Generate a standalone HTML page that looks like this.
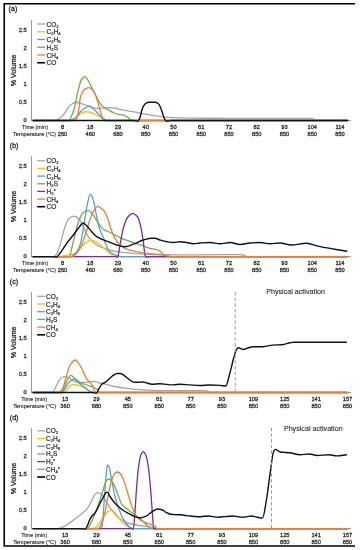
<!DOCTYPE html>
<html><head><meta charset="utf-8"><style>
html,body{margin:0;padding:0;background:#fff;}
body{width:360px;height:550px;overflow:hidden;}
svg{display:block;font-family:"Liberation Sans", Arial, sans-serif;}
text{stroke:#2a2a2a;stroke-width:0.3px;paint-order:stroke;}
</style></head><body>
<svg width="360" height="550" viewBox="0 0 360 550">
<rect width="360" height="550" fill="#fff"/>
<path d="M355,3.75 H4.25 V546 H355" fill="none" stroke="#000" stroke-width="1.6"/>
<text x="8.60" y="10.85" font-size="7.10" text-anchor="start" fill="#2a2a2a">(a)</text>
<line x1="31.50" y1="20.00" x2="31.50" y2="120.90" stroke="#9a9a9a" stroke-width="1"/>
<line x1="31.50" y1="120.50" x2="351.00" y2="120.50" stroke="#8c8c8c" stroke-width="0.9"/>
<text transform="translate(26.80,122.05) scale(0.950,1)" font-size="6.10" text-anchor="end" fill="#2a2a2a">0</text>
<text transform="translate(26.80,104.10) scale(0.950,1)" font-size="6.10" text-anchor="end" fill="#2a2a2a">0.5</text>
<text transform="translate(26.80,86.15) scale(0.950,1)" font-size="6.10" text-anchor="end" fill="#2a2a2a">1</text>
<text transform="translate(26.80,68.20) scale(0.950,1)" font-size="6.10" text-anchor="end" fill="#2a2a2a">1.5</text>
<text transform="translate(26.80,50.25) scale(0.950,1)" font-size="6.10" text-anchor="end" fill="#2a2a2a">2</text>
<text transform="translate(26.80,32.30) scale(0.950,1)" font-size="6.10" text-anchor="end" fill="#2a2a2a">2.5</text>
<text transform="translate(15.9,70.40) rotate(-90)" font-size="7" text-anchor="middle" fill="#2a2a2a">% Volume</text>
<text transform="translate(48.00,129.25) scale(0.930,1)" font-size="5.90" text-anchor="end" fill="#2a2a2a" style="stroke-width:0.15px">Time (min)</text>
<text transform="translate(55.80,135.75) scale(0.945,1)" font-size="5.90" text-anchor="end" fill="#2a2a2a" style="stroke-width:0.15px">Temperature (°C)</text>
<text transform="translate(62.50,129.20) scale(0.920,1)" font-size="6.20" text-anchor="middle" fill="#2a2a2a">8</text>
<text transform="translate(62.50,135.70) scale(0.920,1)" font-size="6.20" text-anchor="middle" fill="#2a2a2a">260</text>
<text transform="translate(90.25,129.20) scale(0.920,1)" font-size="6.20" text-anchor="middle" fill="#2a2a2a">18</text>
<text transform="translate(90.25,135.70) scale(0.920,1)" font-size="6.20" text-anchor="middle" fill="#2a2a2a">460</text>
<text transform="translate(118.00,129.20) scale(0.920,1)" font-size="6.20" text-anchor="middle" fill="#2a2a2a">29</text>
<text transform="translate(118.00,135.70) scale(0.920,1)" font-size="6.20" text-anchor="middle" fill="#2a2a2a">680</text>
<text transform="translate(145.75,129.20) scale(0.920,1)" font-size="6.20" text-anchor="middle" fill="#2a2a2a">40</text>
<text transform="translate(145.75,135.70) scale(0.920,1)" font-size="6.20" text-anchor="middle" fill="#2a2a2a">850</text>
<text transform="translate(173.50,129.20) scale(0.920,1)" font-size="6.20" text-anchor="middle" fill="#2a2a2a">50</text>
<text transform="translate(173.50,135.70) scale(0.920,1)" font-size="6.20" text-anchor="middle" fill="#2a2a2a">850</text>
<text transform="translate(201.25,129.20) scale(0.920,1)" font-size="6.20" text-anchor="middle" fill="#2a2a2a">61</text>
<text transform="translate(201.25,135.70) scale(0.920,1)" font-size="6.20" text-anchor="middle" fill="#2a2a2a">850</text>
<text transform="translate(229.00,129.20) scale(0.920,1)" font-size="6.20" text-anchor="middle" fill="#2a2a2a">72</text>
<text transform="translate(229.00,135.70) scale(0.920,1)" font-size="6.20" text-anchor="middle" fill="#2a2a2a">850</text>
<text transform="translate(256.75,129.20) scale(0.920,1)" font-size="6.20" text-anchor="middle" fill="#2a2a2a">82</text>
<text transform="translate(256.75,135.70) scale(0.920,1)" font-size="6.20" text-anchor="middle" fill="#2a2a2a">850</text>
<text transform="translate(284.50,129.20) scale(0.920,1)" font-size="6.20" text-anchor="middle" fill="#2a2a2a">93</text>
<text transform="translate(284.50,135.70) scale(0.920,1)" font-size="6.20" text-anchor="middle" fill="#2a2a2a">850</text>
<text transform="translate(312.25,129.20) scale(0.920,1)" font-size="6.20" text-anchor="middle" fill="#2a2a2a">104</text>
<text transform="translate(312.25,135.70) scale(0.920,1)" font-size="6.20" text-anchor="middle" fill="#2a2a2a">850</text>
<text transform="translate(340.00,129.20) scale(0.920,1)" font-size="6.20" text-anchor="middle" fill="#2a2a2a">114</text>
<text transform="translate(340.00,135.70) scale(0.920,1)" font-size="6.20" text-anchor="middle" fill="#2a2a2a">850</text>
<line x1="37.2" y1="24.00" x2="45.1" y2="24.00" stroke="#a5a5a5" stroke-width="1.30"/>
<text x="46.60" y="26.55" font-size="6.50" text-anchor="start" fill="#2a2a2a" style="stroke-width:0.2px">CO<tspan font-size="4.2" dy="1.1">2</tspan></text>
<line x1="37.2" y1="31.75" x2="45.1" y2="31.75" stroke="#ffc000" stroke-width="1.30"/>
<text x="46.60" y="34.30" font-size="6.50" text-anchor="start" fill="#2a2a2a" style="stroke-width:0.2px">C<tspan font-size="4.2" dy="1.1">2</tspan><tspan dy="-1.1">H</tspan><tspan font-size="4.2" dy="1.1">4</tspan></text>
<line x1="37.2" y1="39.50" x2="45.1" y2="39.50" stroke="#5b9bd5" stroke-width="1.30"/>
<text x="46.60" y="42.05" font-size="6.50" text-anchor="start" fill="#2a2a2a" style="stroke-width:0.2px">C<tspan font-size="4.2" dy="1.1">2</tspan><tspan dy="-1.1">H</tspan><tspan font-size="4.2" dy="1.1">6</tspan></text>
<line x1="37.2" y1="47.25" x2="45.1" y2="47.25" stroke="#70ad47" stroke-width="1.30"/>
<text x="46.60" y="49.80" font-size="6.50" text-anchor="start" fill="#2a2a2a" style="stroke-width:0.2px">H<tspan font-size="4.2" dy="1.1">2</tspan><tspan dy="-1.1">S</tspan></text>
<line x1="37.2" y1="55.00" x2="45.1" y2="55.00" stroke="#ed7d31" stroke-width="1.30"/>
<text x="46.60" y="57.55" font-size="6.50" text-anchor="start" fill="#2a2a2a" style="stroke-width:0.2px">CH<tspan font-size="4.2" dy="1.1">4</tspan></text>
<line x1="37.2" y1="62.75" x2="45.1" y2="62.75" stroke="#000" stroke-width="1.60"/>
<text x="46.60" y="65.30" font-size="6.50" text-anchor="start" fill="#2a2a2a" style="stroke-width:0.2px">CO</text>
<path d="M33.00,120.50 C40.00,120.50 47.00,120.50 54.00,120.50 C55.00,120.50 56.00,119.98 57.00,119.60 C58.00,119.22 59.00,118.69 60.00,118.00 C61.33,117.08 62.67,115.53 64.00,113.90 C65.25,112.37 66.50,109.81 67.75,108.25 C69.00,106.69 70.25,105.06 71.50,104.25 C72.97,103.30 74.43,102.25 75.90,102.25 C77.35,102.25 78.80,102.84 80.25,103.25 C81.92,103.72 83.58,104.59 85.25,105.10 C86.92,105.61 88.58,105.89 90.25,106.40 C91.92,106.91 93.58,108.07 95.25,108.25 C96.50,108.39 97.75,108.50 99.00,108.50 C100.67,108.50 102.33,107.60 104.00,107.60 C105.67,107.60 107.33,107.60 109.00,107.60 C111.00,107.60 113.00,107.78 115.00,108.00 C116.67,108.18 118.33,109.02 120.00,109.40 C124.07,110.32 128.13,110.86 132.20,111.60 C139.60,112.95 147.00,114.65 154.40,115.70 C158.87,116.34 163.33,117.04 167.80,117.30 C175.20,117.73 182.60,118.03 190.00,118.10 C203.33,118.23 216.67,118.30 230.00,118.30 C253.33,118.30 276.67,118.30 300.00,118.30 C304.00,118.30 308.00,118.32 312.00,118.40 C313.17,118.42 314.33,119.55 315.50,119.90 C316.33,120.15 317.17,120.50 318.00,120.50 C327.87,120.50 337.73,120.50 347.60,120.50" fill="none" stroke="#a5a5a5" stroke-width="1.30" stroke-linejoin="round" stroke-linecap="round"/>
<path d="M33.00,120.50 C45.33,120.50 57.67,120.50 70.00,120.50 C72.17,120.50 74.33,118.37 76.50,117.00 C78.17,115.95 79.83,113.96 81.50,113.25 C83.17,112.54 84.83,111.75 86.50,111.75 C87.75,111.75 89.00,112.00 90.25,112.25 C91.92,112.58 93.58,113.67 95.25,114.50 C96.92,115.33 98.58,116.29 100.25,117.25 C101.50,117.97 102.75,118.97 104.00,119.50 C105.00,119.92 106.00,120.50 107.00,120.50 C187.20,120.50 267.40,120.50 347.60,120.50" fill="none" stroke="#ffc000" stroke-width="1.30" stroke-linejoin="round" stroke-linecap="round"/>
<path d="M33.00,120.50 C45.33,120.50 57.67,120.50 70.00,120.50 C71.75,120.50 73.50,119.37 75.25,118.25 C76.92,117.18 78.58,113.69 80.25,112.00 C81.70,110.53 83.15,109.07 84.60,108.25 C86.07,107.42 87.53,106.40 89.00,106.40 C90.25,106.40 91.50,107.42 92.75,108.25 C94.00,109.08 95.25,110.75 96.50,112.00 C97.75,113.25 99.00,114.61 100.25,115.75 C101.50,116.89 102.75,118.16 104.00,118.90 C105.17,119.59 106.33,120.50 107.50,120.50 C187.53,120.50 267.57,120.50 347.60,120.50" fill="none" stroke="#5b9bd5" stroke-width="1.30" stroke-linejoin="round" stroke-linecap="round"/>
<path d="M33.00,120.50 C45.00,120.50 57.00,120.50 69.00,120.50 C69.83,120.50 70.67,117.77 71.50,116.00 C72.33,114.23 73.17,112.25 74.00,109.50 C74.83,106.75 75.67,102.00 76.50,98.25 C77.33,94.50 78.17,90.00 79.00,87.00 C79.83,84.00 80.67,80.66 81.50,79.50 C82.53,78.06 83.57,76.75 84.60,76.75 C85.43,76.75 86.27,77.95 87.10,78.90 C88.15,80.10 89.20,82.53 90.25,84.50 C91.50,86.85 92.75,89.50 94.00,92.00 C95.25,94.50 96.50,97.36 97.75,99.50 C99.00,101.64 100.25,103.76 101.50,105.10 C102.75,106.44 104.00,107.47 105.25,108.25 C106.50,109.03 107.75,109.42 109.00,110.10 C110.33,110.82 111.67,111.93 113.00,112.50 C114.97,113.34 116.93,113.89 118.90,114.40 C120.73,114.88 122.57,115.04 124.40,115.60 C125.43,115.91 126.47,116.34 127.50,117.00 C128.33,117.53 129.17,119.15 130.00,119.60 C130.83,120.05 131.67,120.50 132.50,120.50 C204.20,120.50 275.90,120.50 347.60,120.50" fill="none" stroke="#70ad47" stroke-width="1.30" stroke-linejoin="round" stroke-linecap="round"/>
<path d="M33.00,120.50 C47.17,120.50 61.33,120.50 75.50,120.50 C76.17,120.50 76.83,118.16 77.50,116.00 C77.92,114.65 78.33,112.13 78.75,109.50 C79.17,106.87 79.58,101.51 80.00,99.50 C80.70,96.12 81.40,93.85 82.10,92.60 C83.15,90.72 84.20,89.47 85.25,88.90 C86.50,88.22 87.75,87.60 89.00,87.60 C90.03,87.60 91.07,88.59 92.10,89.50 C93.15,90.43 94.20,92.29 95.25,94.50 C96.08,96.25 96.92,99.31 97.75,102.00 C98.58,104.69 99.42,107.89 100.25,110.75 C100.87,112.87 101.48,115.43 102.10,117.00 C102.67,118.44 103.23,120.50 103.80,120.50 C185.07,120.50 266.33,120.50 347.60,120.50" fill="none" stroke="#ed7d31" stroke-width="1.30" stroke-linejoin="round" stroke-linecap="round"/>
<path d="M33.00,120.50 C66.67,120.50 100.33,120.50 134.00,120.50 C135.17,120.50 136.33,121.30 137.50,121.30 C138.33,121.30 139.17,119.37 140.00,117.50 C140.63,116.08 141.27,111.88 141.90,110.00 C142.52,108.17 143.13,106.49 143.75,105.60 C144.58,104.40 145.42,103.50 146.25,103.10 C147.08,102.70 147.92,102.30 148.75,102.30 C150.83,102.30 152.92,102.30 155.00,102.30 C156.03,102.30 157.07,102.84 158.10,103.50 C158.73,103.91 159.37,105.07 160.00,106.25 C160.63,107.43 161.27,109.46 161.90,111.25 C162.52,112.99 163.13,115.41 163.75,116.90 C164.37,118.39 164.98,120.22 165.60,120.60 C166.23,121.00 166.87,121.30 167.50,121.30 C168.50,121.30 169.50,120.50 170.50,120.50 C229.53,120.50 288.57,120.50 347.60,120.50" fill="none" stroke="#0a121c" stroke-width="1.40" stroke-linejoin="round" stroke-linecap="round"/>
<text x="9.80" y="148.10" font-size="7.10" text-anchor="start" fill="#2a2a2a">(b)</text>
<line x1="31.50" y1="156.10" x2="31.50" y2="257.00" stroke="#9a9a9a" stroke-width="1"/>
<line x1="31.50" y1="256.60" x2="351.00" y2="256.60" stroke="#8c8c8c" stroke-width="0.9"/>
<text transform="translate(26.80,258.15) scale(0.950,1)" font-size="6.10" text-anchor="end" fill="#2a2a2a">0</text>
<text transform="translate(26.80,240.20) scale(0.950,1)" font-size="6.10" text-anchor="end" fill="#2a2a2a">0.5</text>
<text transform="translate(26.80,222.25) scale(0.950,1)" font-size="6.10" text-anchor="end" fill="#2a2a2a">1</text>
<text transform="translate(26.80,204.30) scale(0.950,1)" font-size="6.10" text-anchor="end" fill="#2a2a2a">1.5</text>
<text transform="translate(26.80,186.35) scale(0.950,1)" font-size="6.10" text-anchor="end" fill="#2a2a2a">2</text>
<text transform="translate(26.80,168.40) scale(0.950,1)" font-size="6.10" text-anchor="end" fill="#2a2a2a">2.5</text>
<text transform="translate(15.9,206.50) rotate(-90)" font-size="7" text-anchor="middle" fill="#2a2a2a">% Volume</text>
<text transform="translate(48.00,265.35) scale(0.930,1)" font-size="5.90" text-anchor="end" fill="#2a2a2a" style="stroke-width:0.15px">Time (min)</text>
<text transform="translate(55.80,271.85) scale(0.945,1)" font-size="5.90" text-anchor="end" fill="#2a2a2a" style="stroke-width:0.15px">Temperature (°C)</text>
<text transform="translate(62.50,265.30) scale(0.920,1)" font-size="6.20" text-anchor="middle" fill="#2a2a2a">8</text>
<text transform="translate(62.50,271.80) scale(0.920,1)" font-size="6.20" text-anchor="middle" fill="#2a2a2a">260</text>
<text transform="translate(90.25,265.30) scale(0.920,1)" font-size="6.20" text-anchor="middle" fill="#2a2a2a">18</text>
<text transform="translate(90.25,271.80) scale(0.920,1)" font-size="6.20" text-anchor="middle" fill="#2a2a2a">460</text>
<text transform="translate(118.00,265.30) scale(0.920,1)" font-size="6.20" text-anchor="middle" fill="#2a2a2a">29</text>
<text transform="translate(118.00,271.80) scale(0.920,1)" font-size="6.20" text-anchor="middle" fill="#2a2a2a">680</text>
<text transform="translate(145.75,265.30) scale(0.920,1)" font-size="6.20" text-anchor="middle" fill="#2a2a2a">40</text>
<text transform="translate(145.75,271.80) scale(0.920,1)" font-size="6.20" text-anchor="middle" fill="#2a2a2a">850</text>
<text transform="translate(173.50,265.30) scale(0.920,1)" font-size="6.20" text-anchor="middle" fill="#2a2a2a">50</text>
<text transform="translate(173.50,271.80) scale(0.920,1)" font-size="6.20" text-anchor="middle" fill="#2a2a2a">850</text>
<text transform="translate(201.25,265.30) scale(0.920,1)" font-size="6.20" text-anchor="middle" fill="#2a2a2a">61</text>
<text transform="translate(201.25,271.80) scale(0.920,1)" font-size="6.20" text-anchor="middle" fill="#2a2a2a">850</text>
<text transform="translate(229.00,265.30) scale(0.920,1)" font-size="6.20" text-anchor="middle" fill="#2a2a2a">72</text>
<text transform="translate(229.00,271.80) scale(0.920,1)" font-size="6.20" text-anchor="middle" fill="#2a2a2a">850</text>
<text transform="translate(256.75,265.30) scale(0.920,1)" font-size="6.20" text-anchor="middle" fill="#2a2a2a">82</text>
<text transform="translate(256.75,271.80) scale(0.920,1)" font-size="6.20" text-anchor="middle" fill="#2a2a2a">850</text>
<text transform="translate(284.50,265.30) scale(0.920,1)" font-size="6.20" text-anchor="middle" fill="#2a2a2a">93</text>
<text transform="translate(284.50,271.80) scale(0.920,1)" font-size="6.20" text-anchor="middle" fill="#2a2a2a">850</text>
<text transform="translate(312.25,265.30) scale(0.920,1)" font-size="6.20" text-anchor="middle" fill="#2a2a2a">104</text>
<text transform="translate(312.25,271.80) scale(0.920,1)" font-size="6.20" text-anchor="middle" fill="#2a2a2a">850</text>
<text transform="translate(340.00,265.30) scale(0.920,1)" font-size="6.20" text-anchor="middle" fill="#2a2a2a">114</text>
<text transform="translate(340.00,271.80) scale(0.920,1)" font-size="6.20" text-anchor="middle" fill="#2a2a2a">850</text>
<line x1="37.2" y1="160.80" x2="45.1" y2="160.80" stroke="#a5a5a5" stroke-width="1.30"/>
<text x="46.60" y="163.35" font-size="6.50" text-anchor="start" fill="#2a2a2a" style="stroke-width:0.2px">CO<tspan font-size="4.2" dy="1.1">2</tspan></text>
<line x1="37.2" y1="168.45" x2="45.1" y2="168.45" stroke="#ffc000" stroke-width="1.30"/>
<text x="46.60" y="171.00" font-size="6.50" text-anchor="start" fill="#2a2a2a" style="stroke-width:0.2px">C<tspan font-size="4.2" dy="1.1">2</tspan><tspan dy="-1.1">H</tspan><tspan font-size="4.2" dy="1.1">4</tspan></text>
<line x1="37.2" y1="176.10" x2="45.1" y2="176.10" stroke="#5b9bd5" stroke-width="1.30"/>
<text x="46.60" y="178.65" font-size="6.50" text-anchor="start" fill="#2a2a2a" style="stroke-width:0.2px">C<tspan font-size="4.2" dy="1.1">2</tspan><tspan dy="-1.1">H</tspan><tspan font-size="4.2" dy="1.1">6</tspan></text>
<line x1="37.2" y1="183.75" x2="45.1" y2="183.75" stroke="#70ad47" stroke-width="1.30"/>
<text x="46.60" y="186.30" font-size="6.50" text-anchor="start" fill="#2a2a2a" style="stroke-width:0.2px">H<tspan font-size="4.2" dy="1.1">2</tspan><tspan dy="-1.1">S</tspan></text>
<line x1="37.2" y1="191.40" x2="45.1" y2="191.40" stroke="#7030a0" stroke-width="1.30"/>
<text x="46.60" y="193.95" font-size="6.50" text-anchor="start" fill="#2a2a2a" style="stroke-width:0.2px">H<tspan font-size="4.2" dy="1.1">2</tspan><tspan font-size="5.2" dy="-2.2">*</tspan></text>
<line x1="37.2" y1="199.05" x2="45.1" y2="199.05" stroke="#ed7d31" stroke-width="1.30"/>
<text x="46.60" y="201.60" font-size="6.50" text-anchor="start" fill="#2a2a2a" style="stroke-width:0.2px">CH<tspan font-size="4.2" dy="1.1">4</tspan></text>
<line x1="37.2" y1="206.70" x2="45.1" y2="206.70" stroke="#000" stroke-width="1.60"/>
<text x="46.60" y="209.25" font-size="6.50" text-anchor="start" fill="#2a2a2a" style="stroke-width:0.2px">CO</text>
<path d="M33.00,256.60 C40.00,256.60 47.00,256.60 54.00,256.60 C54.67,256.60 55.33,255.76 56.00,255.00 C57.33,253.47 58.67,248.93 60.00,245.00 C61.67,240.08 63.33,230.97 65.00,226.70 C66.40,223.11 67.80,219.29 69.20,218.30 C70.87,217.12 72.53,216.20 74.20,216.20 C75.87,216.20 77.53,217.67 79.20,219.20 C80.57,220.46 81.93,224.09 83.30,226.70 C84.97,229.88 86.63,234.25 88.30,236.70 C89.97,239.15 91.63,241.12 93.30,242.50 C95.53,244.34 97.77,245.66 100.00,246.70 C102.23,247.74 104.47,248.52 106.70,249.20 C110.03,250.21 113.37,251.22 116.70,251.70 C122.23,252.50 127.77,252.86 133.30,253.30 C137.77,253.65 142.23,253.98 146.70,254.20 C151.13,254.41 155.57,254.68 160.00,254.70 C173.33,254.77 186.67,254.80 200.00,254.80 C213.33,254.80 226.67,254.60 240.00,254.60 C241.00,254.60 242.00,254.80 243.00,255.00 C244.33,255.26 245.67,256.60 247.00,256.60 C280.53,256.60 314.07,256.60 347.60,256.60" fill="none" stroke="#a5a5a5" stroke-width="1.30" stroke-linejoin="round" stroke-linecap="round"/>
<path d="M33.00,256.60 C41.33,256.60 49.67,256.60 58.00,256.60 C60.33,256.60 62.67,255.92 65.00,255.50 C68.33,254.89 71.67,254.53 75.00,253.30 C77.77,252.28 80.53,247.21 83.30,245.00 C85.80,243.01 88.30,240.00 90.80,240.00 C93.30,240.00 95.80,241.82 98.30,243.30 C100.53,244.62 102.77,247.31 105.00,249.20 C106.67,250.61 108.33,251.99 110.00,253.30 C111.10,254.16 112.20,255.43 113.30,255.80 C114.53,256.22 115.77,256.60 117.00,256.60 C193.87,256.60 270.73,256.60 347.60,256.60" fill="none" stroke="#ffc000" stroke-width="1.30" stroke-linejoin="round" stroke-linecap="round"/>
<path d="M33.00,256.60 C45.33,256.60 57.67,256.60 70.00,256.60 C71.67,256.60 73.33,255.34 75.00,254.00 C76.67,252.66 78.33,249.51 80.00,245.00 C81.40,241.21 82.80,231.13 84.20,223.30 C85.30,217.14 86.40,207.72 87.50,203.30 C88.50,199.28 89.50,194.20 90.50,194.20 C91.43,194.20 92.37,197.32 93.30,200.00 C94.43,203.26 95.57,211.68 96.70,216.70 C97.80,221.57 98.90,226.80 100.00,230.00 C101.10,233.20 102.20,234.78 103.30,237.50 C104.43,240.30 105.57,244.64 106.70,246.70 C108.37,249.72 110.03,252.29 111.70,253.30 C113.90,254.63 116.10,255.21 118.30,255.80 C119.53,256.13 120.77,256.60 122.00,256.60 C197.20,256.60 272.40,256.60 347.60,256.60" fill="none" stroke="#5b9bd5" stroke-width="1.30" stroke-linejoin="round" stroke-linecap="round"/>
<path d="M33.00,256.60 C45.00,256.60 57.00,256.60 69.00,256.60 C70.43,256.60 71.87,247.01 73.30,241.70 C74.70,236.51 76.10,229.16 77.50,225.00 C79.17,220.05 80.83,214.79 82.50,213.30 C84.33,211.66 86.17,210.30 88.00,210.30 C89.77,210.30 91.53,212.95 93.30,215.00 C94.97,216.93 96.63,221.00 98.30,223.30 C99.97,225.60 101.63,228.02 103.30,229.20 C105.53,230.78 107.77,231.40 110.00,232.50 C113.90,234.43 117.80,236.67 121.70,238.30 C125.57,239.92 129.43,241.17 133.30,242.50 C136.63,243.65 139.97,244.63 143.30,245.80 C145.53,246.59 147.77,247.70 150.00,248.30 C152.23,248.90 154.47,249.02 156.70,249.70 C158.07,250.11 159.43,250.69 160.80,251.70 C161.63,252.32 162.47,254.09 163.30,255.00 C163.87,255.62 164.43,256.60 165.00,256.60 C225.87,256.60 286.73,256.60 347.60,256.60" fill="none" stroke="#70ad47" stroke-width="1.30" stroke-linejoin="round" stroke-linecap="round"/>
<path d="M33.00,256.60 C60.67,256.60 88.33,256.60 116.00,256.60 C116.50,256.60 117.00,257.40 117.50,257.40 C118.33,257.40 119.17,249.17 120.00,245.00 C121.10,239.49 122.20,232.10 123.30,228.30 C124.70,223.46 126.10,219.30 127.50,217.50 C129.17,215.36 130.83,213.30 132.50,213.30 C134.17,213.30 135.83,214.77 137.50,216.70 C138.60,217.98 139.70,222.20 140.80,226.70 C141.63,230.11 142.47,235.99 143.30,241.70 C143.87,245.58 144.43,253.51 145.00,255.00 C145.50,256.31 146.00,257.40 146.50,257.40 C147.00,257.40 147.50,256.60 148.00,256.60 C214.53,256.60 281.07,256.60 347.60,256.60" fill="none" stroke="#7030a0" stroke-width="1.30" stroke-linejoin="round" stroke-linecap="round"/>
<path d="M33.00,256.60 C46.00,256.60 59.00,256.60 72.00,256.60 C73.33,256.60 74.67,255.20 76.00,254.00 C77.90,252.29 79.80,248.96 81.70,245.00 C83.37,241.53 85.03,235.00 86.70,230.00 C88.37,225.00 90.03,218.36 91.70,215.00 C93.63,211.10 95.57,206.30 97.50,206.30 C99.43,206.30 101.37,208.11 103.30,210.00 C104.97,211.63 106.63,215.48 108.30,220.00 C108.87,221.54 109.43,224.49 110.00,226.20 C111.67,231.22 113.33,235.43 115.00,238.30 C116.67,241.17 118.33,243.55 120.00,245.00 C122.23,246.94 124.47,248.38 126.70,249.20 C130.03,250.43 133.37,251.07 136.70,251.70 C141.13,252.54 145.57,253.24 150.00,253.70 C153.33,254.04 156.67,254.14 160.00,254.50 C164.00,254.93 168.00,256.60 172.00,256.60 C230.53,256.60 289.07,256.60 347.60,256.60" fill="none" stroke="#ed7d31" stroke-width="1.30" stroke-linejoin="round" stroke-linecap="round"/>
<path d="M33.00,256.60 C40.00,256.60 47.00,256.60 54.00,256.60 C54.67,256.60 55.33,257.30 56.00,257.30 C57.33,257.30 58.67,254.87 60.00,253.30 C62.23,250.67 64.47,246.35 66.70,243.30 C68.90,240.30 71.10,237.86 73.30,235.00 C74.97,232.83 76.63,230.27 78.30,228.30 C79.97,226.33 81.63,223.00 83.30,223.00 C84.43,223.00 85.57,224.71 86.70,225.80 C88.37,227.40 90.03,229.90 91.70,231.70 C93.37,233.50 95.03,235.59 96.70,236.70 C98.37,237.81 100.03,238.48 101.70,239.20 C103.90,240.15 106.10,240.85 108.30,241.70 C111.10,242.78 113.90,244.25 116.70,245.00 C119.47,245.74 122.23,246.70 125.00,246.70 C127.77,246.70 130.53,245.17 133.30,244.20 C136.63,243.04 139.97,240.90 143.30,240.00 C146.10,239.24 148.90,238.30 151.70,238.30 C152.80,238.30 153.90,238.30 155.00,238.30 C156.67,238.30 158.33,239.51 160.00,240.00 C162.23,240.65 164.47,241.33 166.70,241.70 C168.90,242.06 171.10,242.50 173.30,242.50 C175.53,242.50 177.77,241.70 180.00,241.70 C182.23,241.70 184.47,242.18 186.70,242.50 C188.90,242.82 191.10,243.70 193.30,243.70 C195.53,243.70 197.77,243.15 200.00,243.00 C203.33,242.77 206.67,242.50 210.00,242.50 C213.33,242.50 216.67,243.70 220.00,243.70 C223.33,243.70 226.67,242.50 230.00,242.50 C233.33,242.50 236.67,244.50 240.00,244.50 C243.33,244.50 246.67,243.25 250.00,243.00 C253.33,242.75 256.67,242.50 260.00,242.50 C263.33,242.50 266.67,243.70 270.00,243.70 C273.33,243.70 276.67,243.00 280.00,243.00 C283.70,243.00 287.40,245.00 291.10,245.00 C296.30,245.00 301.50,243.20 306.70,243.20 C310.40,243.20 314.10,245.29 317.80,246.10 C322.97,247.24 328.13,248.10 333.30,249.00 C337.77,249.78 342.23,250.47 346.70,251.20" fill="none" stroke="#0a121c" stroke-width="1.40" stroke-linejoin="round" stroke-linecap="round"/>
<text x="9.80" y="284.30" font-size="7.10" text-anchor="start" fill="#2a2a2a">(c)</text>
<line x1="31.50" y1="292.00" x2="31.50" y2="392.90" stroke="#9a9a9a" stroke-width="1"/>
<line x1="31.50" y1="392.50" x2="351.00" y2="392.50" stroke="#8c8c8c" stroke-width="0.9"/>
<text transform="translate(26.80,394.05) scale(0.950,1)" font-size="6.10" text-anchor="end" fill="#2a2a2a">0</text>
<text transform="translate(26.80,376.10) scale(0.950,1)" font-size="6.10" text-anchor="end" fill="#2a2a2a">0.5</text>
<text transform="translate(26.80,358.15) scale(0.950,1)" font-size="6.10" text-anchor="end" fill="#2a2a2a">1</text>
<text transform="translate(26.80,340.20) scale(0.950,1)" font-size="6.10" text-anchor="end" fill="#2a2a2a">1.5</text>
<text transform="translate(26.80,322.25) scale(0.950,1)" font-size="6.10" text-anchor="end" fill="#2a2a2a">2</text>
<text transform="translate(26.80,304.30) scale(0.950,1)" font-size="6.10" text-anchor="end" fill="#2a2a2a">2.5</text>
<text transform="translate(15.9,342.40) rotate(-90)" font-size="7" text-anchor="middle" fill="#2a2a2a">% Volume</text>
<text transform="translate(47.20,401.25) scale(0.930,1)" font-size="5.90" text-anchor="end" fill="#2a2a2a" style="stroke-width:0.15px">Time (min)</text>
<text transform="translate(56.00,407.75) scale(0.945,1)" font-size="5.90" text-anchor="end" fill="#2a2a2a" style="stroke-width:0.15px">Temperature (°C)</text>
<text transform="translate(65.10,401.20) scale(0.920,1)" font-size="6.20" text-anchor="middle" fill="#2a2a2a">13</text>
<text transform="translate(65.10,407.70) scale(0.920,1)" font-size="6.20" text-anchor="middle" fill="#2a2a2a">360</text>
<text transform="translate(96.48,401.20) scale(0.920,1)" font-size="6.20" text-anchor="middle" fill="#2a2a2a">29</text>
<text transform="translate(96.48,407.70) scale(0.920,1)" font-size="6.20" text-anchor="middle" fill="#2a2a2a">680</text>
<text transform="translate(127.86,401.20) scale(0.920,1)" font-size="6.20" text-anchor="middle" fill="#2a2a2a">45</text>
<text transform="translate(127.86,407.70) scale(0.920,1)" font-size="6.20" text-anchor="middle" fill="#2a2a2a">850</text>
<text transform="translate(159.24,401.20) scale(0.920,1)" font-size="6.20" text-anchor="middle" fill="#2a2a2a">61</text>
<text transform="translate(159.24,407.70) scale(0.920,1)" font-size="6.20" text-anchor="middle" fill="#2a2a2a">850</text>
<text transform="translate(190.62,401.20) scale(0.920,1)" font-size="6.20" text-anchor="middle" fill="#2a2a2a">77</text>
<text transform="translate(190.62,407.70) scale(0.920,1)" font-size="6.20" text-anchor="middle" fill="#2a2a2a">850</text>
<text transform="translate(222.00,401.20) scale(0.920,1)" font-size="6.20" text-anchor="middle" fill="#2a2a2a">93</text>
<text transform="translate(222.00,407.70) scale(0.920,1)" font-size="6.20" text-anchor="middle" fill="#2a2a2a">850</text>
<text transform="translate(253.38,401.20) scale(0.920,1)" font-size="6.20" text-anchor="middle" fill="#2a2a2a">109</text>
<text transform="translate(253.38,407.70) scale(0.920,1)" font-size="6.20" text-anchor="middle" fill="#2a2a2a">850</text>
<text transform="translate(284.76,401.20) scale(0.920,1)" font-size="6.20" text-anchor="middle" fill="#2a2a2a">125</text>
<text transform="translate(284.76,407.70) scale(0.920,1)" font-size="6.20" text-anchor="middle" fill="#2a2a2a">850</text>
<text transform="translate(316.14,401.20) scale(0.920,1)" font-size="6.20" text-anchor="middle" fill="#2a2a2a">141</text>
<text transform="translate(316.14,407.70) scale(0.920,1)" font-size="6.20" text-anchor="middle" fill="#2a2a2a">850</text>
<text transform="translate(347.52,401.20) scale(0.920,1)" font-size="6.20" text-anchor="middle" fill="#2a2a2a">157</text>
<text transform="translate(347.52,407.70) scale(0.920,1)" font-size="6.20" text-anchor="middle" fill="#2a2a2a">850</text>
<line x1="37.2" y1="296.30" x2="45.1" y2="296.30" stroke="#a5a5a5" stroke-width="1.30"/>
<text x="46.00" y="298.85" font-size="6.50" text-anchor="start" fill="#2a2a2a" style="stroke-width:0.2px">CO<tspan font-size="4.2" dy="1.1">2</tspan></text>
<line x1="37.2" y1="304.00" x2="45.1" y2="304.00" stroke="#ffc000" stroke-width="1.30"/>
<text x="46.00" y="306.55" font-size="6.50" text-anchor="start" fill="#2a2a2a" style="stroke-width:0.2px">C<tspan font-size="4.2" dy="1.1">2</tspan><tspan dy="-1.1">H</tspan><tspan font-size="4.2" dy="1.1">4</tspan></text>
<line x1="37.2" y1="311.70" x2="45.1" y2="311.70" stroke="#5b9bd5" stroke-width="1.30"/>
<text x="46.00" y="314.25" font-size="6.50" text-anchor="start" fill="#2a2a2a" style="stroke-width:0.2px">C<tspan font-size="4.2" dy="1.1">2</tspan><tspan dy="-1.1">H</tspan><tspan font-size="4.2" dy="1.1">6</tspan></text>
<line x1="37.2" y1="319.40" x2="45.1" y2="319.40" stroke="#70ad47" stroke-width="1.30"/>
<text x="46.00" y="321.95" font-size="6.50" text-anchor="start" fill="#2a2a2a" style="stroke-width:0.2px">H<tspan font-size="4.2" dy="1.1">2</tspan><tspan dy="-1.1">S</tspan></text>
<line x1="37.2" y1="327.10" x2="45.1" y2="327.10" stroke="#ed7d31" stroke-width="1.30"/>
<text x="46.00" y="329.65" font-size="6.50" text-anchor="start" fill="#2a2a2a" style="stroke-width:0.2px">CH<tspan font-size="4.2" dy="1.1">4</tspan></text>
<line x1="37.2" y1="334.80" x2="45.1" y2="334.80" stroke="#000" stroke-width="1.60"/>
<text x="46.00" y="337.35" font-size="6.50" text-anchor="start" fill="#2a2a2a" style="stroke-width:0.2px">CO</text>
<path d="M33.00,392.50 C39.17,392.50 45.33,392.50 51.50,392.50 C52.17,392.50 52.83,391.89 53.50,391.30 C54.57,390.36 55.63,387.12 56.70,385.00 C57.53,383.35 58.37,381.11 59.20,380.00 C60.03,378.89 60.87,377.83 61.70,377.50 C62.80,377.06 63.90,376.70 65.00,376.70 C66.10,376.70 67.20,377.10 68.30,377.50 C69.43,377.91 70.57,379.41 71.70,380.00 C73.90,381.14 76.10,382.50 78.30,382.50 C80.53,382.50 82.77,382.50 85.00,382.50 C87.77,382.50 90.53,381.40 93.30,381.40 C95.53,381.40 97.77,382.50 100.00,383.00 C102.23,383.50 104.47,383.84 106.70,384.40 C108.47,384.84 110.23,385.61 112.00,386.00 C116.43,386.99 120.87,387.66 125.30,388.20 C130.87,388.88 136.43,389.40 142.00,389.80 C145.33,390.04 148.67,390.30 152.00,390.40 C155.40,390.50 158.80,390.60 162.20,390.60 C174.80,390.60 187.40,390.60 200.00,390.60 C202.00,390.60 204.00,390.60 206.00,390.60 C207.33,390.60 208.67,392.50 210.00,392.50 C255.87,392.50 301.73,392.50 347.60,392.50" fill="none" stroke="#a5a5a5" stroke-width="1.30" stroke-linejoin="round" stroke-linecap="round"/>
<path d="M33.00,392.50 C43.33,392.50 53.67,392.50 64.00,392.50 C64.67,392.50 65.33,391.62 66.00,391.00 C67.33,389.77 68.67,386.47 70.00,385.80 C71.40,385.10 72.80,384.50 74.20,384.50 C76.13,384.50 78.07,385.20 80.00,385.80 C82.23,386.49 84.47,387.82 86.70,389.20 C88.13,390.09 89.57,392.50 91.00,392.50 C176.53,392.50 262.07,392.50 347.60,392.50" fill="none" stroke="#ffc000" stroke-width="1.30" stroke-linejoin="round" stroke-linecap="round"/>
<path d="M33.00,392.50 C42.67,392.50 52.33,392.50 62.00,392.50 C62.73,392.50 63.47,390.97 64.20,390.00 C65.57,388.20 66.93,384.81 68.30,383.30 C69.97,381.46 71.63,379.20 73.30,379.20 C74.97,379.20 76.63,381.34 78.30,382.50 C80.53,384.06 82.77,385.86 85.00,387.50 C86.93,388.92 88.87,390.81 90.80,391.70 C91.53,392.04 92.27,392.50 93.00,392.50 C177.87,392.50 262.73,392.50 347.60,392.50" fill="none" stroke="#5b9bd5" stroke-width="1.30" stroke-linejoin="round" stroke-linecap="round"/>
<path d="M33.00,392.50 C42.33,392.50 51.67,392.50 61.00,392.50 C61.67,392.50 62.33,391.08 63.00,390.00 C63.93,388.49 64.87,385.12 65.80,383.30 C67.47,380.04 69.13,375.30 70.80,375.30 C72.20,375.30 73.60,377.22 75.00,378.30 C76.67,379.58 78.33,381.62 80.00,382.50 C82.23,383.68 84.47,384.25 86.70,385.00 C88.90,385.74 91.10,386.06 93.30,387.00 C94.43,387.49 95.57,388.31 96.70,389.20 C97.80,390.07 98.90,392.50 100.00,392.50 C182.53,392.50 265.07,392.50 347.60,392.50" fill="none" stroke="#70ad47" stroke-width="1.30" stroke-linejoin="round" stroke-linecap="round"/>
<path d="M33.00,392.50 C41.67,392.50 50.33,392.50 59.00,392.50 C59.50,392.50 60.00,391.96 60.50,391.50 C61.43,390.64 62.37,388.81 63.30,386.70 C64.43,384.13 65.57,378.65 66.70,375.00 C67.80,371.46 68.90,366.65 70.00,365.00 C71.77,362.35 73.53,360.00 75.30,360.00 C76.60,360.00 77.90,362.44 79.20,364.20 C80.57,366.05 81.93,368.96 83.30,371.70 C84.43,373.97 85.57,377.64 86.70,379.20 C87.80,380.71 88.90,381.24 90.00,382.50 C90.83,383.45 91.67,384.39 92.50,385.80 C93.33,387.21 94.17,391.01 95.00,391.70 C95.50,392.11 96.00,392.50 96.50,392.50 C180.20,392.50 263.90,392.50 347.60,392.50" fill="none" stroke="#ed7d31" stroke-width="1.30" stroke-linejoin="round" stroke-linecap="round"/>
<path d="M33.00,392.50 C53.00,392.50 73.00,392.50 93.00,392.50 C94.07,392.50 95.13,393.20 96.20,393.20 C97.30,393.20 98.40,389.42 99.50,387.70 C100.33,386.40 101.17,384.65 102.00,384.00 C103.10,383.14 104.20,383.01 105.30,382.30 C106.43,381.56 107.57,380.30 108.70,379.30 C110.07,378.10 111.43,376.60 112.80,375.70 C114.20,374.78 115.60,373.50 117.00,373.50 C118.10,373.50 119.20,373.50 120.30,373.50 C121.43,373.50 122.57,374.52 123.70,375.20 C124.80,375.86 125.90,376.85 127.00,377.70 C128.40,378.78 129.80,380.27 131.20,381.00 C132.30,381.57 133.40,382.30 134.50,382.30 C135.90,382.30 137.30,382.30 138.70,382.30 C140.07,382.30 141.43,382.00 142.80,382.00 C144.20,382.00 145.60,382.67 147.00,383.00 C148.67,383.40 150.33,384.20 152.00,384.20 C154.67,384.20 157.33,383.80 160.00,383.80 C162.23,383.80 164.47,384.22 166.70,384.40 C168.90,384.58 171.10,384.90 173.30,384.90 C175.53,384.90 177.77,384.20 180.00,384.20 C183.33,384.20 186.67,384.68 190.00,384.90 C193.33,385.12 196.67,385.50 200.00,385.50 C203.33,385.50 206.67,385.00 210.00,385.00 C213.33,385.00 216.67,385.20 220.00,385.40 C221.93,385.52 223.87,386.00 225.80,386.00 C227.10,386.00 228.40,378.44 229.70,373.90 C231.00,369.36 232.30,362.85 233.60,358.30 C234.50,355.15 235.40,351.13 236.30,349.80 C236.97,348.81 237.63,347.80 238.30,347.80 C239.97,347.80 241.63,349.60 243.30,349.60 C244.87,349.60 246.43,348.46 248.00,348.00 C249.67,347.51 251.33,346.70 253.00,346.70 C256.27,346.70 259.53,346.70 262.80,346.70 C266.03,346.70 269.27,345.31 272.50,345.10 C275.73,344.89 278.97,344.93 282.20,344.70 C284.80,344.51 287.40,343.28 290.00,342.80 C291.30,342.56 292.60,342.20 293.90,342.20 C297.13,342.20 300.37,342.20 303.60,342.20 C317.87,342.20 332.13,342.20 346.40,342.20" fill="none" stroke="#0a121c" stroke-width="1.40" stroke-linejoin="round" stroke-linecap="round"/>
<line x1="235.20" y1="291.90" x2="235.20" y2="392.50" stroke="#9a9a9a" stroke-width="1" stroke-dasharray="3.3,2.4"/>
<text x="266.25" y="293.80" font-size="7.15" text-anchor="start" fill="#1a1a1a" style="stroke-width:0.08px">Physical activation</text>
<text x="9.80" y="420.10" font-size="7.10" text-anchor="start" fill="#2a2a2a">(d)</text>
<line x1="31.50" y1="428.10" x2="31.50" y2="529.00" stroke="#9a9a9a" stroke-width="1"/>
<line x1="31.50" y1="528.60" x2="351.00" y2="528.60" stroke="#8c8c8c" stroke-width="0.9"/>
<text transform="translate(26.80,530.15) scale(0.950,1)" font-size="6.10" text-anchor="end" fill="#2a2a2a">0</text>
<text transform="translate(26.80,512.20) scale(0.950,1)" font-size="6.10" text-anchor="end" fill="#2a2a2a">0.5</text>
<text transform="translate(26.80,494.25) scale(0.950,1)" font-size="6.10" text-anchor="end" fill="#2a2a2a">1</text>
<text transform="translate(26.80,476.30) scale(0.950,1)" font-size="6.10" text-anchor="end" fill="#2a2a2a">1.5</text>
<text transform="translate(26.80,458.35) scale(0.950,1)" font-size="6.10" text-anchor="end" fill="#2a2a2a">2</text>
<text transform="translate(26.80,440.40) scale(0.950,1)" font-size="6.10" text-anchor="end" fill="#2a2a2a">2.5</text>
<text transform="translate(15.9,478.50) rotate(-90)" font-size="7" text-anchor="middle" fill="#2a2a2a">% Volume</text>
<text transform="translate(47.20,537.35) scale(0.930,1)" font-size="5.90" text-anchor="end" fill="#2a2a2a" style="stroke-width:0.15px">Time (min)</text>
<text transform="translate(56.00,543.85) scale(0.945,1)" font-size="5.90" text-anchor="end" fill="#2a2a2a" style="stroke-width:0.15px">Temperature (°C)</text>
<text transform="translate(65.10,537.30) scale(0.920,1)" font-size="6.20" text-anchor="middle" fill="#2a2a2a">13</text>
<text transform="translate(65.10,543.80) scale(0.920,1)" font-size="6.20" text-anchor="middle" fill="#2a2a2a">360</text>
<text transform="translate(96.48,537.30) scale(0.920,1)" font-size="6.20" text-anchor="middle" fill="#2a2a2a">29</text>
<text transform="translate(96.48,543.80) scale(0.920,1)" font-size="6.20" text-anchor="middle" fill="#2a2a2a">680</text>
<text transform="translate(127.86,537.30) scale(0.920,1)" font-size="6.20" text-anchor="middle" fill="#2a2a2a">45</text>
<text transform="translate(127.86,543.80) scale(0.920,1)" font-size="6.20" text-anchor="middle" fill="#2a2a2a">850</text>
<text transform="translate(159.24,537.30) scale(0.920,1)" font-size="6.20" text-anchor="middle" fill="#2a2a2a">61</text>
<text transform="translate(159.24,543.80) scale(0.920,1)" font-size="6.20" text-anchor="middle" fill="#2a2a2a">850</text>
<text transform="translate(190.62,537.30) scale(0.920,1)" font-size="6.20" text-anchor="middle" fill="#2a2a2a">77</text>
<text transform="translate(190.62,543.80) scale(0.920,1)" font-size="6.20" text-anchor="middle" fill="#2a2a2a">850</text>
<text transform="translate(222.00,537.30) scale(0.920,1)" font-size="6.20" text-anchor="middle" fill="#2a2a2a">93</text>
<text transform="translate(222.00,543.80) scale(0.920,1)" font-size="6.20" text-anchor="middle" fill="#2a2a2a">850</text>
<text transform="translate(253.38,537.30) scale(0.920,1)" font-size="6.20" text-anchor="middle" fill="#2a2a2a">109</text>
<text transform="translate(253.38,543.80) scale(0.920,1)" font-size="6.20" text-anchor="middle" fill="#2a2a2a">850</text>
<text transform="translate(284.76,537.30) scale(0.920,1)" font-size="6.20" text-anchor="middle" fill="#2a2a2a">125</text>
<text transform="translate(284.76,543.80) scale(0.920,1)" font-size="6.20" text-anchor="middle" fill="#2a2a2a">850</text>
<text transform="translate(316.14,537.30) scale(0.920,1)" font-size="6.20" text-anchor="middle" fill="#2a2a2a">141</text>
<text transform="translate(316.14,543.80) scale(0.920,1)" font-size="6.20" text-anchor="middle" fill="#2a2a2a">850</text>
<text transform="translate(347.52,537.30) scale(0.920,1)" font-size="6.20" text-anchor="middle" fill="#2a2a2a">157</text>
<text transform="translate(347.52,543.80) scale(0.920,1)" font-size="6.20" text-anchor="middle" fill="#2a2a2a">850</text>
<line x1="37.2" y1="430.80" x2="45.1" y2="430.80" stroke="#a5a5a5" stroke-width="1.30"/>
<text x="46.00" y="433.35" font-size="6.50" text-anchor="start" fill="#2a2a2a" style="stroke-width:0.2px">CO<tspan font-size="4.2" dy="1.1">2</tspan></text>
<line x1="37.2" y1="438.50" x2="45.1" y2="438.50" stroke="#ffc000" stroke-width="1.30"/>
<text x="46.00" y="441.05" font-size="6.50" text-anchor="start" fill="#2a2a2a" style="stroke-width:0.2px">C<tspan font-size="4.2" dy="1.1">2</tspan><tspan dy="-1.1">H</tspan><tspan font-size="4.2" dy="1.1">4</tspan></text>
<line x1="37.2" y1="446.20" x2="45.1" y2="446.20" stroke="#5b9bd5" stroke-width="1.30"/>
<text x="46.00" y="448.75" font-size="6.50" text-anchor="start" fill="#2a2a2a" style="stroke-width:0.2px">C<tspan font-size="4.2" dy="1.1">2</tspan><tspan dy="-1.1">H</tspan><tspan font-size="4.2" dy="1.1">6</tspan></text>
<line x1="37.2" y1="453.90" x2="45.1" y2="453.90" stroke="#70ad47" stroke-width="1.30"/>
<text x="46.00" y="456.45" font-size="6.50" text-anchor="start" fill="#2a2a2a" style="stroke-width:0.2px">H<tspan font-size="4.2" dy="1.1">2</tspan><tspan dy="-1.1">S</tspan></text>
<line x1="37.2" y1="461.60" x2="45.1" y2="461.60" stroke="#7030a0" stroke-width="1.30"/>
<text x="46.00" y="464.15" font-size="6.50" text-anchor="start" fill="#2a2a2a" style="stroke-width:0.2px">H<tspan font-size="4.2" dy="1.1">2</tspan><tspan font-size="5.2" dy="-2.2">*</tspan></text>
<line x1="37.2" y1="469.30" x2="45.1" y2="469.30" stroke="#ed7d31" stroke-width="1.30"/>
<text x="46.00" y="471.85" font-size="6.50" text-anchor="start" fill="#2a2a2a" style="stroke-width:0.2px">CH<tspan font-size="4.2" dy="1.1">4</tspan><tspan font-size="5.2" dy="-2.2">*</tspan></text>
<line x1="37.2" y1="477.00" x2="45.1" y2="477.00" stroke="#000" stroke-width="1.60"/>
<text x="46.00" y="479.55" font-size="6.50" text-anchor="start" fill="#2a2a2a" style="stroke-width:0.2px">CO</text>
<path d="M33.00,528.60 C41.00,528.60 49.00,528.60 57.00,528.60 C58.17,528.60 59.33,528.22 60.50,527.90 C62.37,527.39 64.23,526.34 66.10,525.30 C67.97,524.26 69.83,522.76 71.70,521.40 C73.53,520.06 75.37,518.62 77.20,517.20 C79.07,515.75 80.93,514.35 82.80,512.80 C83.95,511.85 85.10,511.06 86.25,509.80 C87.17,508.79 88.08,507.33 89.00,505.80 C89.93,504.24 90.87,502.12 91.80,500.30 C92.73,498.48 93.67,495.98 94.60,494.90 C95.53,493.82 96.47,492.60 97.40,492.60 C98.30,492.60 99.20,493.13 100.10,493.60 C101.03,494.09 101.97,495.04 102.90,496.10 C104.43,497.84 105.97,501.33 107.50,503.75 C109.17,506.38 110.83,509.22 112.50,511.25 C115.00,514.29 117.50,517.06 120.00,518.75 C123.33,521.01 126.67,522.89 130.00,523.75 C135.00,525.04 140.00,525.61 145.00,526.25 C147.33,526.55 149.67,526.64 152.00,527.00 C154.00,527.31 156.00,528.60 158.00,528.60 C221.20,528.60 284.40,528.60 347.60,528.60" fill="none" stroke="#a5a5a5" stroke-width="1.30" stroke-linejoin="round" stroke-linecap="round"/>
<path d="M33.00,528.60 C52.00,528.60 71.00,528.60 90.00,528.60 C91.67,528.60 93.33,528.25 95.00,527.80 C97.23,527.19 99.47,522.95 101.70,520.00 C103.37,517.80 105.03,513.75 106.70,512.50 C108.37,511.25 110.03,510.00 111.70,510.00 C113.37,510.00 115.03,513.09 116.70,515.00 C118.37,516.91 120.03,520.07 121.70,521.70 C123.90,523.86 126.10,525.38 128.30,526.70 C129.53,527.44 130.77,528.60 132.00,528.60 C203.87,528.60 275.73,528.60 347.60,528.60" fill="none" stroke="#ffc000" stroke-width="1.30" stroke-linejoin="round" stroke-linecap="round"/>
<path d="M33.00,528.60 C55.50,528.60 78.00,528.60 100.50,528.60 C101.10,528.60 101.70,527.08 102.30,525.00 C102.87,523.04 103.43,511.41 104.00,504.00 C104.60,496.16 105.20,485.19 105.80,479.00 C106.37,473.16 106.93,465.00 107.50,465.00 C108.00,465.00 108.50,465.70 109.00,466.50 C109.75,467.70 110.50,474.15 111.25,478.00 C111.83,480.99 112.42,484.12 113.00,487.00 C113.67,490.30 114.33,493.84 115.00,496.50 C115.83,499.82 116.67,502.44 117.50,505.00 C118.33,507.56 119.17,510.02 120.00,512.00 C121.67,515.96 123.33,519.72 125.00,522.00 C126.67,524.28 128.33,526.34 130.00,527.20 C131.33,527.89 132.67,528.60 134.00,528.60 C205.20,528.60 276.40,528.60 347.60,528.60" fill="none" stroke="#5b9bd5" stroke-width="1.30" stroke-linejoin="round" stroke-linecap="round"/>
<path d="M33.00,528.60 C50.33,528.60 67.67,528.60 85.00,528.60 C85.67,528.60 86.33,528.60 87.00,528.60 C88.37,528.60 89.73,524.97 91.10,522.50 C92.50,519.97 93.90,516.29 95.30,512.80 C96.67,509.39 98.03,505.70 99.40,501.70 C100.57,498.29 101.73,494.07 102.90,490.60 C104.17,486.84 105.43,480.98 106.70,480.00 C107.23,479.59 107.77,479.20 108.30,479.20 C108.87,479.20 109.43,479.34 110.00,479.50 C111.10,479.81 112.20,481.62 113.30,483.30 C114.70,485.44 116.10,489.82 117.50,493.30 C118.90,496.78 120.30,502.29 121.70,504.20 C123.90,507.20 126.10,508.22 128.30,510.00 C130.53,511.80 132.77,513.33 135.00,515.00 C137.23,516.67 139.47,518.08 141.70,520.00 C143.90,521.89 146.10,524.92 148.30,526.70 C149.20,527.43 150.10,528.60 151.00,528.60 C216.53,528.60 282.07,528.60 347.60,528.60" fill="none" stroke="#70ad47" stroke-width="1.30" stroke-linejoin="round" stroke-linecap="round"/>
<path d="M33.00,528.60 C65.83,528.60 98.67,528.60 131.50,528.60 C132.07,528.60 132.63,529.40 133.20,529.40 C133.73,529.40 134.27,521.10 134.80,515.00 C135.30,509.29 135.80,498.18 136.30,491.70 C137.07,481.77 137.83,472.16 138.60,466.70 C139.33,461.48 140.07,456.57 140.80,455.00 C141.63,453.21 142.47,451.70 143.30,451.70 C144.13,451.70 144.97,453.28 145.80,455.00 C146.63,456.72 147.47,461.39 148.30,466.70 C149.13,472.01 149.97,481.97 150.80,491.70 C151.37,498.32 151.93,508.01 152.50,515.00 C152.90,519.94 153.30,528.30 153.70,528.60 C154.13,528.93 154.57,529.10 155.00,529.10 C155.67,529.10 156.33,528.60 157.00,528.60 C220.53,528.60 284.07,528.60 347.60,528.60" fill="none" stroke="#7030a0" stroke-width="1.30" stroke-linejoin="round" stroke-linecap="round"/>
<path d="M33.00,528.60 C54.67,528.60 76.33,528.60 98.00,528.60 C98.67,528.60 99.33,527.59 100.00,526.70 C101.67,524.47 103.33,518.36 105.00,512.00 C106.10,507.80 107.20,500.23 108.30,495.00 C109.43,489.61 110.57,483.15 111.70,480.00 C112.80,476.95 113.90,474.19 115.00,473.30 C115.83,472.63 116.67,472.00 117.50,472.00 C118.60,472.00 119.70,473.08 120.80,474.20 C121.93,475.36 123.07,478.74 124.20,481.70 C125.57,485.27 126.93,490.62 128.30,495.00 C129.70,499.49 131.10,504.87 132.50,508.30 C133.90,511.73 135.30,515.11 136.70,516.70 C138.90,519.20 141.10,520.60 143.30,521.70 C145.53,522.82 147.77,523.38 150.00,524.20 C151.67,524.81 153.33,524.98 155.00,526.00 C155.67,526.41 156.33,528.60 157.00,528.60 C220.53,528.60 284.07,528.60 347.60,528.60" fill="none" stroke="#ed7d31" stroke-width="1.30" stroke-linejoin="round" stroke-linecap="round"/>
<path d="M33.00,528.60 C49.33,528.60 65.67,528.60 82.00,528.60 C82.97,528.60 83.93,529.30 84.90,529.30 C85.80,529.30 86.70,527.03 87.60,525.30 C88.30,523.95 89.00,521.12 89.70,519.70 C90.40,518.28 91.10,517.12 91.80,516.25 C92.73,515.09 93.67,514.67 94.60,513.50 C95.53,512.33 96.47,510.37 97.40,508.60 C98.30,506.89 99.20,504.69 100.10,503.00 C101.03,501.25 101.97,499.98 102.90,498.20 C103.47,497.12 104.03,495.54 104.60,494.60 C105.13,493.71 105.67,492.40 106.20,492.40 C106.67,492.40 107.13,492.40 107.60,492.40 C108.40,492.40 109.20,495.27 110.00,496.50 C111.67,499.06 113.33,501.50 115.00,503.30 C117.23,505.71 119.47,507.57 121.70,509.20 C123.90,510.80 126.10,512.07 128.30,513.30 C130.53,514.55 132.77,516.03 135.00,516.70 C136.67,517.20 138.33,517.80 140.00,517.80 C142.23,517.80 144.47,516.81 146.70,515.80 C147.80,515.30 148.90,514.08 150.00,513.30 C151.67,512.12 153.33,510.72 155.00,510.00 C156.00,509.57 157.00,509.00 158.00,509.00 C159.50,509.00 161.00,509.49 162.50,510.00 C163.67,510.40 164.83,511.71 166.00,512.30 C167.57,513.09 169.13,513.97 170.70,514.20 C172.13,514.41 173.57,514.53 175.00,514.60 C177.13,514.70 179.27,514.68 181.40,514.80 C182.93,514.88 184.47,515.42 186.00,515.60 C187.53,515.78 189.07,515.85 190.60,516.00 C192.07,516.14 193.53,516.41 195.00,516.50 C196.60,516.60 198.20,516.70 199.80,516.70 C201.20,516.70 202.60,516.29 204.00,516.20 C205.67,516.10 207.33,516.00 209.00,516.00 C210.33,516.00 211.67,516.42 213.00,516.60 C214.67,516.82 216.33,517.20 218.00,517.20 C219.33,517.20 220.67,516.90 222.00,516.80 C223.67,516.67 225.33,516.61 227.00,516.50 C229.13,516.36 231.27,516.00 233.40,516.00 C234.93,516.00 236.47,516.51 238.00,516.70 C239.53,516.89 241.07,517.20 242.60,517.20 C244.07,517.20 245.53,516.79 247.00,516.60 C248.60,516.39 250.20,516.00 251.80,516.00 C253.20,516.00 254.60,516.57 256.00,516.90 C257.13,517.17 258.27,517.64 259.40,517.80 C260.43,517.95 261.47,518.10 262.50,518.10 C263.83,518.10 265.17,507.04 266.50,499.50 C267.77,492.34 269.03,480.67 270.30,472.20 C271.40,464.84 272.50,453.45 273.60,451.50 C274.23,450.38 274.87,449.40 275.50,449.40 C277.10,449.40 278.70,451.75 280.30,452.00 C283.53,452.50 286.77,452.42 290.00,452.80 C293.23,453.18 296.47,454.70 299.70,454.70 C302.97,454.70 306.23,454.00 309.50,454.00 C312.07,454.00 314.63,455.50 317.20,455.50 C321.10,455.50 325.00,454.70 328.90,454.70 C331.50,454.70 334.10,455.90 336.70,455.90 C339.93,455.90 343.17,455.10 346.40,454.70" fill="none" stroke="#0a121c" stroke-width="1.40" stroke-linejoin="round" stroke-linecap="round"/>
<line x1="271.50" y1="427.80" x2="271.50" y2="528.60" stroke="#9a9a9a" stroke-width="1" stroke-dasharray="3.3,2.4"/>
<text x="283.90" y="430.80" font-size="7.15" text-anchor="start" fill="#1a1a1a" style="stroke-width:0.08px">Physical activation</text>
</svg>
</body></html>
